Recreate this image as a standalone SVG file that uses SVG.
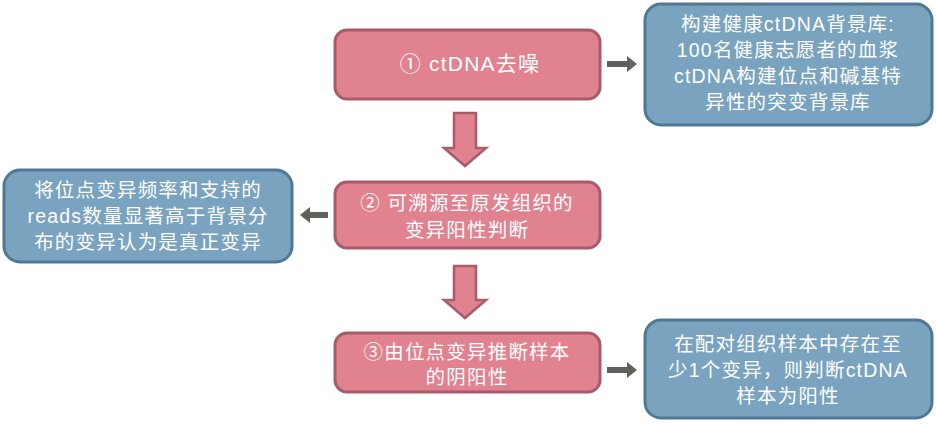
<svg xmlns="http://www.w3.org/2000/svg" width="936" height="424" viewBox="0 0 936 424">
<style>
.p{fill:#E0828F;stroke:#A95B69;stroke-width:3}
.b{fill:#79A3BE;stroke:#4E7893;stroke-width:3}
.t{fill:#fff;font-family:"Liberation Sans","Noto Sans CJK SC",sans-serif;font-size:19.5px;text-anchor:middle;letter-spacing:1.2px}
.da{fill:#E0828F;stroke:#A95B69;stroke-width:2.5}
.ga{fill:#5E625C}
</style>
<rect width="936" height="424" fill="#fff"/>
<g id="n1"><rect class="p" x="335" y="30" width="265" height="69" rx="12"/><text class="t" x="470" y="71" style="font-size:21px">① ctDNA去噪</text></g>
<g id="n2"><rect class="p" x="335" y="182" width="265" height="66" rx="12"/><text class="t" x="467" y="210">② 可溯源至原发组织的</text><text class="t" x="467" y="237">变异阳性判断</text></g>
<g id="n3"><rect class="p" x="335" y="333" width="265" height="59" rx="12"/><text class="t" x="467" y="359">③由位点变异推断样本</text><text class="t" x="467" y="384">的阴阳性</text></g>
<g id="b1"><rect class="b" x="645" y="4" width="287" height="121" rx="16"/><text class="t" x="788" y="31">构建健康ctDNA背景库:</text><text class="t" x="788" y="57">100名健康志愿者的血浆</text><text class="t" x="788" y="83">ctDNA构建位点和碱基特</text><text class="t" x="788" y="109">异性的突变背景库</text></g>
<g id="b2"><rect class="b" x="4" y="170" width="288" height="92" rx="16"/><text class="t" x="148" y="197">将位点变异频率和支持的</text><text class="t" x="148" y="223">reads数量显著高于背景分</text><text class="t" x="148" y="249">布的变异认为是真正变异</text></g>
<g id="b3"><rect class="b" x="645" y="320" width="287" height="98" rx="16"/><text class="t" x="788" y="351">在配对组织样本中存在至</text><text class="t" x="788" y="377">少1个变异，则判断ctDNA</text><text class="t" x="788" y="403">样本为阳性</text></g>
<g id="connectors">
<path class="da" d="M454,113 H476 V148 H486 L465,166 L444,148 H454 Z"/>
<path class="da" d="M454,266 H476 V300 H486 L465,318 L444,300 H454 Z"/>
<path class="ga" d="M607,61 H627 V56 L637,64 L627,72 V67 H607 Z"/>
<path class="ga" d="M328,212 H310 V207 L300,215 L310,223 V218 H328 Z"/>
<path class="ga" d="M607,367 H627 V362 L637,370 L627,378 V373 H607 Z"/>
</g>
</svg>
